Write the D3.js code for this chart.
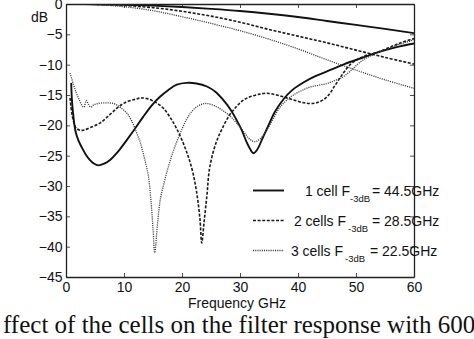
<!DOCTYPE html>
<html>
<head>
<meta charset="utf-8">
<script src="https://cdn.jsdelivr.net/npm/d3@7"></script>
<style>
  html, body { margin: 0; padding: 0; background: #fff; }
  svg { display: block; }
  .sans { font-family: "Liberation Sans", Arial, Helvetica, sans-serif; fill: #111; }
  .serif { font-family: "Liberation Serif", "Times New Roman", serif; fill: #111; }
</style>
</head>
<body>
<svg id="chart" width="474" height="339"></svg>
<script>
// ---------------- data ----------------
const xTicks = [0, 10, 20, 30, 40, 50, 60];
const yTicks = [0, -5, -10, -15, -20, -25, -30, -35, -40, -45];

// Transmission (S21) curves
const s21Freq      = [0.5, 5, 10, 15, 20, 25, 30, 35, 40, 45, 50, 55, 60];
const s21OneCell   = [0, -0.03, -0.12, -0.27, -0.5, -0.8, -1.15, -1.6, -2.15, -2.8, -3.45, -4.1, -4.8];
const s21TwoCells  = [0, -0.05, -0.25, -0.6, -1.2, -2.0, -3.0, -4.2, -5.3, -6.4, -7.6, -8.8, -9.9];
const s21ThreeCells= [0, -0.1, -0.45, -1.1, -2.1, -3.2, -4.4, -5.8, -7.4, -9.2, -10.9, -12.5, -13.9];

// Reflection (S11) curves
const s11OneFreq = [0.9, 1.0, 1.2, 1.6, 2.1, 2.7, 3.4, 4.1, 4.8, 5.6, 6.6, 7.6, 9, 10.5, 12, 13.3, 14.8, 16.2, 17.6, 19.1, 20.8, 22.5, 24.3, 25.8, 27.1, 28.3, 29.4, 30.3, 31.2, 31.8, 32.3, 32.9, 34, 35, 36, 37.5, 39, 41, 43, 45, 48, 51, 54, 57, 60];
const s11OneDb   = [-13, -15.5, -17.8, -20.8, -22.4, -23.6, -24.8, -25.7, -26.3, -26.6, -26.3, -25.7, -24.3, -22.4, -20.4, -18.6, -16.7, -15.3, -14.2, -13.3, -13.0, -13.1, -13.6, -14.5, -15.8, -17.3, -19.1, -20.8, -22.9, -24.0, -24.6, -24.1, -21.9, -19.8, -17.8, -15.7, -14.2, -12.9, -11.9, -11.1, -9.9, -8.9, -7.9, -7.1, -6.5];

const s11TwoFreq = [0.7, 1.0, 1.4, 1.8, 2.4, 3.0, 4.1, 5.9, 7.6, 9, 10.5, 12, 12.8, 14, 15.6, 16.8, 17.9, 19, 20.2, 21.1, 21.9, 22.6, 23.1, 23.4, 23.8, 24.3, 24.8, 25.9, 27.1, 28.2, 29.4, 30.5, 31.7, 33.2, 34.6, 36.3, 37.8, 39.2, 40.6, 42, 43.5, 45, 46.4, 47.8, 49.2, 50.7, 52, 53.6, 56.4, 58, 60];
const s11TwoDb   = [-15.5, -18, -19.7, -20.5, -20.8, -20.8, -20.4, -19.6, -18.2, -17.0, -16.1, -15.7, -15.5, -15.6, -16.3, -17.2, -18.6, -20.4, -22.9, -25.2, -27.9, -31.5, -35.5, -39.4, -36, -31.5, -26.8, -22.8, -20.2, -18.3, -16.9, -15.9, -15.3, -14.9, -14.7, -15.0, -15.4, -15.8, -16.2, -16.4, -16.2, -15.3, -13.4, -11.4, -9.8, -8.9, -8.4, -8.0, -6.9, -6.3, -5.7];

const s11ThreeFreq = [0.7, 1.3, 1.8, 2.3, 2.8, 3.1, 3.5, 3.9, 4.3, 4.8, 5.5, 6.4, 7.3, 8.2, 9.3, 10.5, 11.4, 12.2, 12.8, 13.3, 13.8, 14.2, 14.7, 15.0, 15.3, 15.8, 16.3, 16.9, 17.6, 18.3, 19.1, 20, 20.8, 21.7, 22.6, 23.5, 24.3, 25.7, 27.1, 28.3, 29.4, 30.6, 31.7, 32.6, 33.5, 34.6, 35.8, 36.9, 38, 39.2, 40.6, 42, 43.5, 45, 46.4, 47.8, 49.2, 50.7, 52.2, 53.6, 55, 56.4, 58, 60];
const s11ThreeDb   = [-11.4, -13.3, -14.7, -15.8, -16.8, -17.0, -15.9, -16.6, -17.0, -16.6, -16.4, -16.3, -16.3, -16.4, -17.0, -18.0, -19.4, -21.3, -22.8, -24.6, -26.5, -28.3, -33, -37, -41, -36, -32, -29.5, -27, -24.8, -22.7, -20.6, -19.0, -17.7, -16.9, -16.5, -16.4, -16.8, -17.6, -18.5, -19.6, -21.0, -22.3, -22.7, -22.2, -20.8, -18.8, -17.0, -15.9, -15.0, -14.3, -13.7, -13.4, -13.1, -12.6, -12.0, -10.9, -9.6, -8.7, -8.1, -7.5, -7.0, -6.5, -5.9];

const legendLabels = ["1 cell F", "2 cells F", "3 cells F"];
const legendSub = "-3dB";
const legendValues = ["= 44.5GHz", "= 28.5GHz", "= 22.5GHz"];

const xLabel = "Frequency GHz";
const yLabel = "dB";
const caption = "ffect of the cells on the filter response with 600\u03bcm";

// ---------------- layout ----------------
const svg = d3.select("#chart");
const margin = { left: 66, top: 4, right: 60, bottom: 62 };
const W = 474, H = 339;
const iw = W - margin.left - margin.right;
const ih = H - margin.top - margin.bottom;

const x = d3.scaleLinear().domain([0, 60]).range([margin.left, margin.left + iw]);
const y = d3.scaleLinear().domain([-45, 0]).range([margin.top + ih, margin.top]);

const styles = [
  { color: "#111", width: 1.9, dash: null },
  { color: "#1a1a1a", width: 1.6, dash: "3,1.6" },
  { color: "#3a3a3a", width: 1.3, dash: "1.1,1.1" }
];

const line = d3.line()
  .x(d => x(d[0]))
  .y(d => y(d[1]))
  .curve(d3.curveCatmullRom.alpha(0.5));

const zip = (fs, vs) => fs.map((f, i) => [f, vs[i]]);

const series = [
  { pts: zip(s21Freq, s21OneCell), s: 0 },
  { pts: zip(s21Freq, s21TwoCells), s: 1 },
  { pts: zip(s21Freq, s21ThreeCells), s: 2 },
  { pts: zip(s11OneFreq, s11OneDb), s: 0 },
  { pts: zip(s11TwoFreq, s11TwoDb), s: 1 },
  { pts: zip(s11ThreeFreq, s11ThreeDb), s: 2 }
];

svg.append("defs").append("clipPath").attr("id", "clip")
  .append("rect").attr("x", margin.left).attr("y", margin.top).attr("width", iw).attr("height", ih);

const g = svg.append("g").attr("clip-path", "url(#clip)");
series.forEach(sr => {
  const st = styles[sr.s];
  g.append("path")
    .attr("d", line(sr.pts))
    .attr("fill", "none")
    .attr("stroke", st.color)
    .attr("stroke-width", st.width)
    .attr("stroke-dasharray", st.dash);
});

// ---------------- axes (box with inward ticks) ----------------
const fontSize = 14;
const axB = svg.append("g").attr("transform", `translate(0,${margin.top + ih})`)
  .call(d3.axisBottom(x).tickValues(xTicks).tickSize(-4).tickSizeOuter(0).tickPadding(5));
const axT = svg.append("g").attr("transform", `translate(0,${margin.top})`)
  .call(d3.axisTop(x).tickValues(xTicks).tickSize(-4).tickSizeOuter(0).tickFormat(""));
const axL = svg.append("g").attr("transform", `translate(${margin.left},0)`)
  .call(d3.axisLeft(y).tickValues(yTicks).tickSize(-4).tickSizeOuter(0).tickPadding(3.5));
const axR = svg.append("g").attr("transform", `translate(${margin.left + iw},0)`)
  .call(d3.axisRight(y).tickValues(yTicks).tickSize(-4).tickSizeOuter(0).tickFormat(""));

[axB, axT, axL, axR].forEach(a => {
  a.select(".domain").attr("stroke", "#222").attr("stroke-width", 1.3);
  a.selectAll(".tick line").attr("stroke", "#222").attr("stroke-width", 0.8);
  a.selectAll("text").attr("class", "sans").attr("font-size", fontSize);
});

// axis titles
svg.append("text").attr("class", "sans").attr("x", x(30) - 3).attr("y", 308)
  .attr("text-anchor", "middle").attr("font-size", 14).text(xLabel);
svg.append("text").attr("class", "sans").attr("x", 31).attr("y", 22)
  .attr("font-size", 14).text(yLabel);

// ---------------- legend ----------------
const legBase = [196, 226, 256];
const legEnd = [350, 346, 343];
const legEqX = [372, 372, 370];
legendLabels.forEach((lab, i) => {
  const st = styles[i];
  const ly = legBase[i] - 5.5;
  svg.append("line").attr("x1", 253).attr("x2", 284).attr("y1", ly).attr("y2", ly)
    .attr("stroke", st.color).attr("stroke-width", st.width).attr("stroke-dasharray", st.dash);
  svg.append("text").attr("class", "sans").attr("x", legEnd[i]).attr("y", legBase[i])
    .attr("text-anchor", "end").attr("font-size", 14).text(lab);
  svg.append("text").attr("class", "sans").attr("x", legEnd[i] + (i === 0 ? 0 : 2)).attr("y", legBase[i] + 5.5)
    .attr("font-size", 9.5).text(legendSub);
  svg.append("text").attr("class", "sans").attr("x", legEqX[i]).attr("y", legBase[i])
    .attr("font-size", 14).text(legendValues[i]);
});

// ---------------- caption ----------------
svg.append("text").attr("class", "serif").attr("x", 3).attr("y", 333)
  .attr("font-size", 25).text(caption);
</script>
</body>
</html>
